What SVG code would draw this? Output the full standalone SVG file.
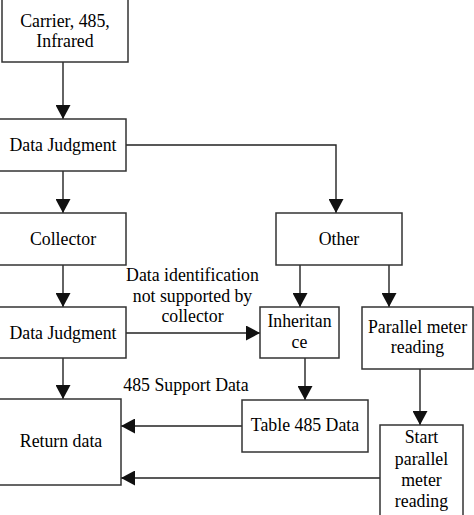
<svg xmlns="http://www.w3.org/2000/svg" width="474" height="515" viewBox="0 0 474 515" font-family="Liberation Serif, serif" font-size="17.8">
<style>
.box{fill:#fff;stroke:#333;stroke-width:1.5}
text{fill:#000;text-anchor:middle}
.c{fill:none;stroke:#222;stroke-width:1.4}
</style>
<defs>
<marker id="ah" viewBox="0 0 14 15" refX="14" refY="7.5" markerWidth="14" markerHeight="15" markerUnits="userSpaceOnUse" orient="auto">
<path d="M0,0 L14,7.5 L0,15 Z" fill="#111"/>
</marker>
</defs>
<rect width="474" height="515" fill="#fff"/>
<g id="connectors">
<path class="c" d="M63,62 V119" marker-end="url(#ah)"/>
<path class="c" d="M63,171 V213" marker-end="url(#ah)"/>
<path class="c" d="M126,145 H336 V213" marker-end="url(#ah)"/>
<path class="c" d="M63,265 V307" marker-end="url(#ah)"/>
<path class="c" d="M300,265 V307" marker-end="url(#ah)"/>
<path class="c" d="M389,265 V307" marker-end="url(#ah)"/>
<path class="c" d="M126,333 H260" marker-end="url(#ah)"/>
<path class="c" d="M63,358 V399" marker-end="url(#ah)"/>
<path class="c" d="M305,358 V400" marker-end="url(#ah)"/>
<path class="c" d="M420,369 V425" marker-end="url(#ah)"/>
<path class="c" d="M242,426 H121" marker-end="url(#ah)"/>
<path class="c" d="M380,478 H121" marker-end="url(#ah)"/>
<text x="192.5" y="281">Data identification</text>
<text x="192.5" y="302">not supported by</text>
<text x="192.5" y="322">collector</text>
<text x="186" y="391">485 Support Data</text>
</g>
<g id="n1"><rect class="box" x="2" y="-2" width="126" height="64"/><text x="65" y="27">Carrier, 485,</text><text x="65" y="47">Infrared</text></g>
<g id="n2"><rect class="box" x="-1" y="119" width="127" height="52"/><text x="63" y="151">Data Judgment</text></g>
<g id="n3"><rect class="box" x="-1" y="213" width="127" height="52"/><text x="63" y="245">Collector</text></g>
<g id="n4"><rect class="box" x="276" y="213" width="126" height="52"/><text x="339" y="245">Other</text></g>
<g id="n5"><rect class="box" x="-1" y="307" width="127" height="51"/><text x="63" y="339">Data Judgment</text></g>
<g id="n6"><rect class="box" x="260" y="307" width="79" height="51"/><text x="299.5" y="327">Inheritan</text><text x="299.5" y="348">ce</text></g>
<g id="n7"><rect class="box" x="362" y="307" width="111" height="62"/><text x="417.5" y="333">Parallel meter</text><text x="417.5" y="353">reading</text></g>
<g id="n8"><rect class="box" x="-1" y="399" width="122" height="86"/><text x="61" y="447">Return data</text></g>
<g id="n9"><rect class="box" x="242" y="400" width="126" height="52"/><text x="305" y="431">Table 485 Data</text></g>
<g id="n10"><rect class="box" x="380" y="425" width="83" height="95"/><text x="421.5" y="443">Start</text><text x="421.5" y="465">parallel</text><text x="421.5" y="486">meter</text><text x="421.5" y="507">reading</text></g>
</svg>
